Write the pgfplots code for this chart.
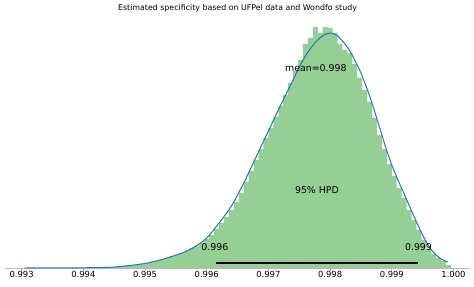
\documentclass[border=0pt]{standalone}
\usepackage{pgfplots}
\pgfplotsset{compat=1.18}
\usepackage{fontspec}
\setmainfont{DejaVu Sans}
\definecolor{histgreen}{RGB}{149,207,149}
\definecolor{kdeblue}{RGB}{31,119,180}
% x values are (specificity - 0.993) * 1000
\pgfplotstableread{
x h
0.56 0.07
0.64 0.1
0.72 0.12
0.80 0.15
0.88 0.18
0.96 0.2
1.04 0.3
1.12 0.45
1.20 0.6
1.28 0.7
1.36 0.85
1.44 1.0
1.52 1.3
1.60 1.8
1.68 2.3
1.76 3.0
1.84 3.6
1.92 4.3
2.00 5.1
2.08 6.3
2.16 7.5
2.24 8.7
2.32 10.2
2.40 11.8
2.48 13.4
2.56 15
2.64 17.4
2.72 19.8
2.80 22.5
2.88 25
2.96 29
3.04 33
3.12 39
3.20 45
3.28 51
3.36 58
3.44 66
3.52 75
3.60 86
3.68 97
3.76 108
3.84 119
3.92 130
4.00 140
4.08 151
4.16 162
4.24 173
4.32 185
4.40 197
4.48 208
4.56 224
4.64 230
4.72 241
4.80 235
4.88 241
4.96 240
5.04 235
5.12 224
5.20 218
5.28 215
5.36 204
5.44 190
5.52 178
5.60 166
5.68 150
5.76 133
5.84 119
5.92 104
6.00 92
6.08 80
6.16 70
6.24 58
6.32 48
6.40 38
6.48 28
6.56 19
6.64 14
6.72 10
6.80 7
6.88 3
6.96 3
}\histtable
\pgfplotstableread{
x h
0.05 0
0.5 0.05
1.0 0.2
1.5 1
2.0 4.5
2.3 9
2.6 15
2.8 21
3.0 30
3.2 45
3.4 62
3.6 85
3.8 111
4.0 137
4.2 163
4.4 188
4.5 201
4.6 212
4.7 221
4.8 228
4.9 233
5.0 235
5.1 233
5.2 227
5.3 219
5.4 208
5.5 195
5.6 179
5.7 161
5.8 141
5.9 121
6.0 103
6.1 88
6.2 74
6.3 60
6.4 46
6.5 33
6.6 22
6.7 14
6.8 9
6.91 6
}\kdetable
\begin{document}
\begin{tikzpicture}
\useasboundingbox (-3.75pt,-13.5pt) rectangle (351.75pt,201pt);
\begin{axis}[
  at={(0pt,0pt)}, anchor=south west,
  scale only axis, width=348.75pt, height=190.5pt,
  xmin=-0.27, xmax=7.268, ymin=0, ymax=254,
  axis y line=none, axis x line*=bottom,
  x axis line style={-, gray!55, line width=0.6pt},
  ytick=\empty,
  xtick={0,1,2,3,4,5,6,7},
  xticklabels={0.993,0.994,0.995,0.996,0.997,0.998,0.999,1.000},
  tick align=outside, major tick length=2.5pt,
  xtick style={gray!55, line width=0.6pt},
  /pgf/number format/assume math mode=true,
  xticklabel style={font=\fontsize{6.3}{7}\selectfont, inner sep=0pt, anchor=north},
  title={Estimated specificity based on UFPel data and Wondfo study},
  every axis title/.style={font=\fontsize{5.9}{7}\selectfont, at={(0.5,1)}, anchor=center, yshift=4.5pt, inner sep=0pt},
  clip=false,
]
\addplot[fill=histgreen, draw=none, const plot mark left] table[x=x,y=h] {\histtable} \closedcycle;
\addplot[kdeblue, line width=0.75pt, smooth, tension=0.5] table[x=x,y=h] {\kdetable};
\addplot[black, line width=1.6pt] coordinates {(3.149,4.7) (6.424,4.7)};
\node[font=\fontsize{7.05}{8}\selectfont, inner sep=0pt] at (axis cs:4.77,200) {mean=0.998};
\node[font=\fontsize{7.05}{8}\selectfont, inner sep=0pt] at (axis cs:4.787,78) {95\% HPD};
\node[font=\fontsize{7.05}{8}\selectfont, inner sep=0pt] at (axis cs:3.133,21) {0.996};
\node[font=\fontsize{7.05}{8}\selectfont, inner sep=0pt] at (axis cs:6.433,21) {0.999};
\end{axis}
\end{tikzpicture}
\end{document}
